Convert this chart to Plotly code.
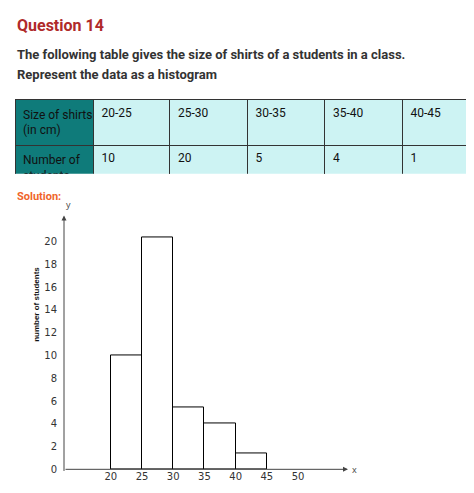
import plotly.graph_objects as go

# table data
size_ranges = ["20-25", "25-30", "30-35", "35-40", "40-45"]
num_students = ["10", "20", "5", "4", "1"]

# histogram as drawn
class_mid = [22.5, 27.5, 32.5, 37.5, 42.5]
bar_heights = [10, 20.4, 5.4, 4, 1.4]
y_ticks = list(range(0, 21, 2))
x_ticks = [20, 25, 30, 35, 40, 45, 50]

W, H = 474, 493
teal = "#0f7b7a"
cyan = "#cdf3f3"

fig = go.Figure()

fig.add_trace(go.Table(
    domain=dict(x=[7 / W, 467 / W], y=[1 - 168 / H, 1 - 93 / H]),
    columnwidth=[79, 77, 78, 78, 78, 72],
    header=dict(values=["Size of shirts<br>(in cm)"] + size_ranges,
                fill_color=[teal] + [cyan] * 5, line_color="#333",
                align="left", height=18,
                font=dict(family="Roboto", size=12, color="#111")),
    cells=dict(values=[["Number of<br>students"]] + [[v] for v in num_students],
               fill_color=[teal] + [cyan] * 5, line_color="#333",
               align="left", height=18,
               font=dict(family="Roboto", size=12, color="#111")),
))

fig.add_trace(go.Bar(
    x=class_mid, y=bar_heights, width=5,
    marker=dict(color="white", line=dict(color="black", width=1)),
    showlegend=False, hoverinfo="skip",
))

fig.update_xaxes(range=[12.5, 58], domain=[56 / W, 340 / W],
                 tickvals=x_ticks, showgrid=False, zeroline=False,
                 showline=False, ticks="",
                 tickfont=dict(family="DejaVu Sans", size=10, color="#333"))
fig.update_yaxes(range=[0, 22.3], domain=[1 - 467 / H, 1 - 210 / H],
                 tickvals=y_ticks, showgrid=False, zeroline=False,
                 showline=False, ticks="", ticklabelstandoff=6,
                 tickfont=dict(family="DejaVu Sans", size=10, color="#333"))

# axes with arrowheads (paper coordinates)
x0, y0 = 56 / W, 1 - 467 / H
fig.add_annotation(x=340 / W, y=y0, ax=-(340 - 56), ay=0, xref="paper", yref="paper",
                   showarrow=True, arrowhead=2, arrowwidth=1, arrowcolor="#444", text="")
fig.add_annotation(x=x0, y=1 - 210 / H, ax=0, ay=467 - 210, xref="paper", yref="paper",
                   showarrow=True, arrowhead=2, arrowwidth=1, arrowcolor="#444", text="")
fig.add_annotation(x=342 / W, y=y0, xref="paper", yref="paper", text="x", showarrow=False,
                   xanchor="left", yanchor="middle", font=dict(size=9, color="#444"))
fig.add_annotation(x=x0, y=1 - 208 / H, xref="paper", yref="paper", text="y", showarrow=False,
                   yanchor="bottom", font=dict(size=9, color="#444"))

fig.add_annotation(x=22 / W, y=1 - 340 / H, xref="paper", yref="paper",
                   text="<b>number of students</b>", textangle=-90, showarrow=False,
                   font=dict(family="Liberation Sans", size=8, color="#111"))

# heading texts
def heading(ypx, text, size, color):
    fig.add_annotation(x=7 / W, y=1 - ypx / H, xref="paper", yref="paper",
                       xanchor="left", yanchor="middle", text=text, showarrow=False,
                       font=dict(family="Roboto", size=size, color=color))

heading(18, "<b>Question 14</b>", 16, "#b02a2a")
heading(47, "<b>The following table gives the size of shirts of a students in a class.</b>", 13, "#333")
heading(67, "<b>Represent the data as a histogram</b>", 13, "#333")
heading(191, "<b>Solution:</b>", 11, "#f0652a")

fig.update_layout(width=W, height=H, margin=dict(l=0, r=0, t=0, b=0),
                  plot_bgcolor="white", paper_bgcolor="white", bargap=0)

fig.write_html("out.html")
